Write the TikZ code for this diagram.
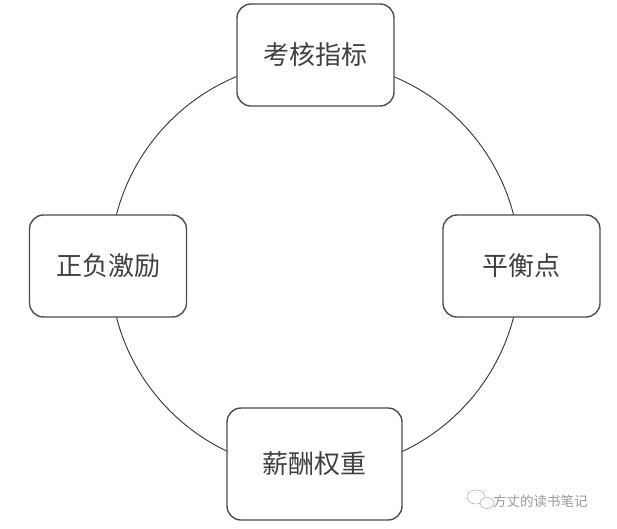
\documentclass[tikz,border=0pt]{standalone}
\usepackage{fontspec}
\setmainfont{Noto Sans CJK SC}
\usepackage{tikz}
\usetikzlibrary{positioning}

\begin{document}
\begin{tikzpicture}[x=1pt,y=-1pt,
		ringline/.style={draw=black!80,line width=0.9pt},
		stagebox/.style={draw=black!70,line width=1.4pt,fill=white,rounded corners=14pt,
			minimum width=157pt,minimum height=102pt,text=black!75,
			font=\fontsize{26}{30}\selectfont},
		bigbox/.style={stagebox,minimum width=175pt,minimum height=112pt}]
			\useasboundingbox (0,0) rectangle (617,528);
			\coordinate (ring) at (315,266);
			\draw[ringline] (ring) circle (205pt);
			\node[stagebox] (kaohe) at (315.5,55) {考核指标};
			\node[stagebox] (jili) at (108,266) {正负激励};
			\node[stagebox] (pingheng) at (521.5,266) {平衡点};
			\node[bigbox] (xinchou) at (314.5,464) {薪酬权重};
			% watermark
			\draw[black!30,line width=0.6pt] (476,497) ellipse (9pt and 7pt);
			\draw[black!30,line width=0.6pt,fill=white] (487,503) ellipse (7pt and 5.5pt);
			\node[text=black!40,font=\fontsize{13.5}{15}\selectfont,anchor=west,inner sep=0pt]
				(mark) at (493,501) {方丈的读书笔记};
		\end{tikzpicture}
\end{document}
